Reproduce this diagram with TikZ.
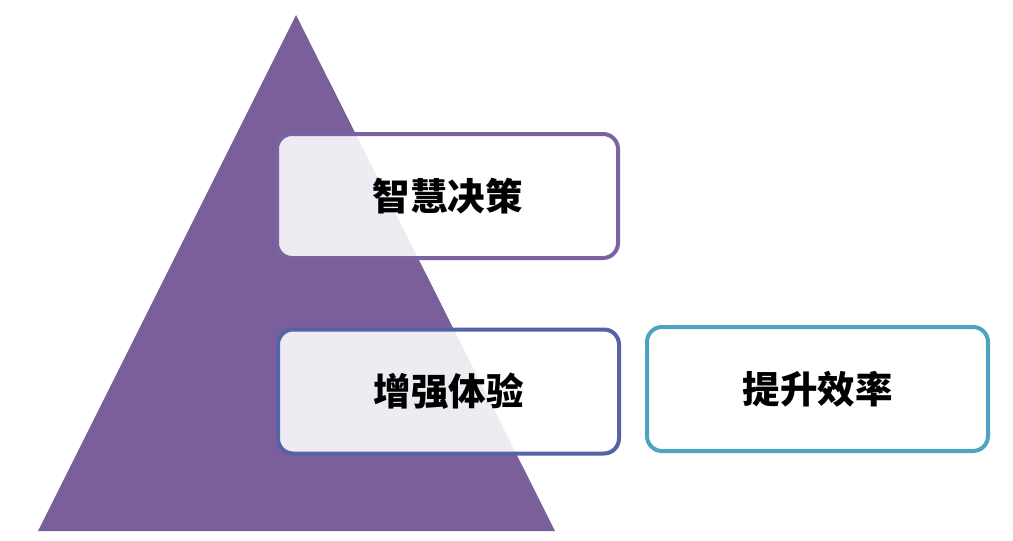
\documentclass[tikz,border=0pt]{standalone}
\usepackage{fontspec}
\newfontfamily\cjk{Noto Sans CJK SC}
\definecolor{tri}{HTML}{7A5F9A}
\definecolor{cA}{HTML}{7C62A0}
\definecolor{cB}{HTML}{5562A8}
\definecolor{cC}{HTML}{4BA4C0}
\tikzset{
  box/.style={draw, line width=4pt, rounded corners=15pt, fill=white, fill opacity=0.88, text opacity=1,
    minimum width=341pt, minimum height=124pt, inner sep=0pt,
    font=\cjk\bfseries\fontsize{37.5}{42}\selectfont, text=black}
}
\begin{document}
\begin{tikzpicture}[x=1pt,y=-1pt]
\useasboundingbox (0,0) rectangle (1013,541);
\fill[tri] (296,15) coordinate (apex) -- (38,531) coordinate (bl) -- (555,531) coordinate (br) -- cycle;
\node[box, draw=cA] (b1) at (447.5,196) {智慧决策};
\node[box, draw=cB] (b2) at (448.5,391.5) {增强体验};
\node[box, draw=cC] (b3) at (817.5,389) {提升效率};
\end{tikzpicture}
\end{document}
